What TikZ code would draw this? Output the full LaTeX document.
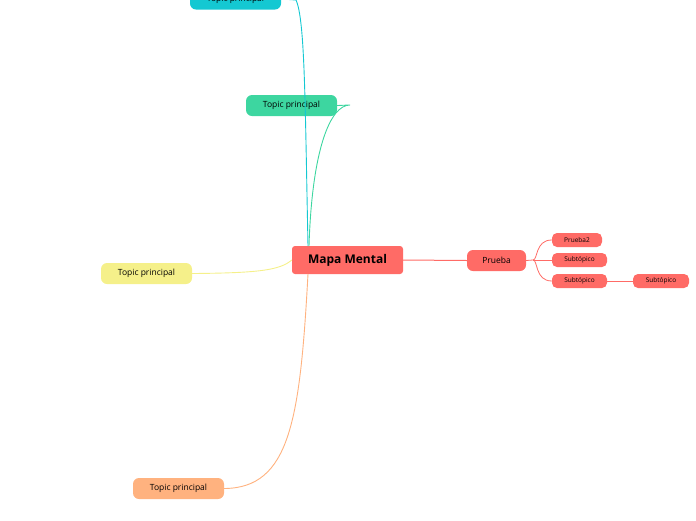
\documentclass[tikz,border=0pt]{standalone}
\usepackage{fontspec}
\setmainfont{Open Sans}
\definecolor{cred}{HTML}{FF6B66}
\definecolor{ccyan}{HTML}{14C8D2}
\definecolor{cgreen}{HTML}{3DD6A0}
\definecolor{cyel}{HTML}{F5F08A}
\definecolor{corg}{HTML}{FFB27F}
\begin{document}
\begin{tikzpicture}[x=1pt,y=-1pt,
 box/.style={rounded corners=6pt,inner sep=0pt,text=black,font=\fontsize{8.5}{9}\selectfont},
 sbox/.style={rounded corners=5pt,inner sep=0pt,text=black,font=\fontsize{6.5}{7}\selectfont}]
\useasboundingbox (0,0) rectangle (696,520);
\node[box,fill=cred,minimum width=111,minimum height=28,rounded corners=3pt,font=\bfseries\fontsize{12}{13}\selectfont] (c) at (347.5,260) {Mapa Mental};
\node[box,fill=cred,minimum width=59,minimum height=21] (p) at (496.5,260.5) {Prueba};
\node[sbox,fill=cred,minimum width=50,minimum height=14] (p2) at (577,240) {Prueba2};
\node[sbox,fill=cred,minimum width=55,minimum height=14] (s1) at (579.5,260) {Subtópico};
\node[sbox,fill=cred,minimum width=55,minimum height=14] (s2) at (579.5,281) {Subtópico};
\node[sbox,fill=cred,minimum width=56,minimum height=14] (s3) at (661,281) {Subtópico};
\node[box,fill=ccyan,minimum width=91,minimum height=21] (t1) at (235.5,-1) {Topic principal};
\node[box,fill=cgreen,minimum width=91,minimum height=21] (t2) at (291.5,105.5) {Topic principal};
\node[box,fill=cyel,minimum width=91,minimum height=21] (t3) at (146.5,273.5) {Topic principal};
\node[box,fill=corg,minimum width=91,minimum height=21] (t4) at (178.5,488.5) {Topic principal};
\draw[cred,line width=1pt] (c.east) -- (p.west);
\draw[cred,line width=0.8pt] (p.east) -- (533,260) .. controls (538,260) and (535,240) .. (p2.west);
\draw[cred,line width=0.8pt] (533,260) -- (s1.west);
\draw[cred,line width=0.8pt] (533,260) .. controls (538,260) and (535,281) .. (s2.west);
\draw[cred,line width=0.8pt] (s2.east) -- (s3.west);
\draw[ccyan,line width=0.9pt] (308,246) .. controls (305,100) and (305,20) .. (296,0) -- (t1.east);
\draw[cgreen,line width=0.9pt] (309,246) .. controls (312,150) and (330,105) .. (350,105) -- (t2.east);
\draw[cyel,line width=0.9pt] (c.west) .. controls (280,270) and (260,273) .. (t3.east);
\draw[corg,line width=0.9pt] (308,274) .. controls (300,420) and (290,488) .. (t4.east);
\end{tikzpicture}
\end{document}
